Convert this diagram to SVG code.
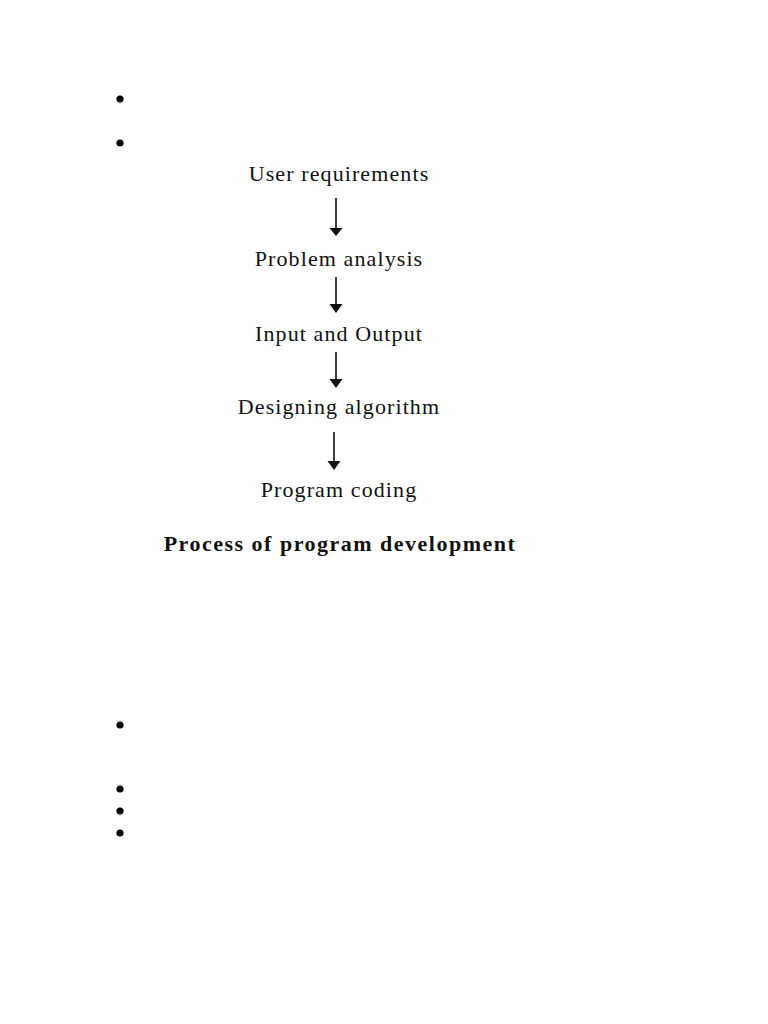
<svg xmlns="http://www.w3.org/2000/svg" width="768" height="1024" viewBox="0 0 768 1024">
<defs>
<style>
.t{font-family:"Liberation Serif","Times New Roman",serif;font-size:22px;fill:#111;text-anchor:middle;letter-spacing:1.1px}
.b{font-family:"Liberation Serif","Times New Roman",serif;font-size:22px;font-weight:bold;fill:#111;text-anchor:middle;letter-spacing:1.5px}
.c{stroke:#111;stroke-width:1.6;fill:none}
.h{fill:#111}
.dot{fill:#000}
</style>
</defs>
<rect width="768" height="1024" fill="#fff"/>
<g id="bullets">
<circle class="dot" cx="120" cy="99" r="3.6"/>
<circle class="dot" cx="120" cy="143" r="3.6"/>
<circle class="dot" cx="120" cy="725" r="3.6"/>
<circle class="dot" cx="120" cy="789" r="3.6"/>
<circle class="dot" cx="120" cy="811" r="3.6"/>
<circle class="dot" cx="120" cy="833" r="3.6"/>
</g>
<g id="n1"><text class="t" x="339" y="181">User requirements</text></g>
<g id="n2"><text class="t" x="339" y="266">Problem analysis</text></g>
<g id="n3"><text class="t" x="339" y="341">Input and Output</text></g>
<g id="n4"><text class="t" x="339" y="414">Designing algorithm</text></g>
<g id="n5"><text class="t" x="339" y="497">Program coding</text></g>
<g id="title"><text class="b" x="340" y="551">Process of program development</text></g>
<g id="connectors">
<line class="c" x1="336" y1="198" x2="336" y2="230"/>
<path class="h" d="M329.5,228 L342.5,228 L336,236 Z"/>
<line class="c" x1="336" y1="277" x2="336" y2="306"/>
<path class="h" d="M329.5,304 L342.5,304 L336,313 Z"/>
<line class="c" x1="336" y1="352" x2="336" y2="381"/>
<path class="h" d="M329.5,379 L342.5,379 L336,388 Z"/>
<line class="c" x1="334" y1="432" x2="334" y2="463"/>
<path class="h" d="M327.5,461 L340.5,461 L334,470 Z"/>
</g>
</svg>
